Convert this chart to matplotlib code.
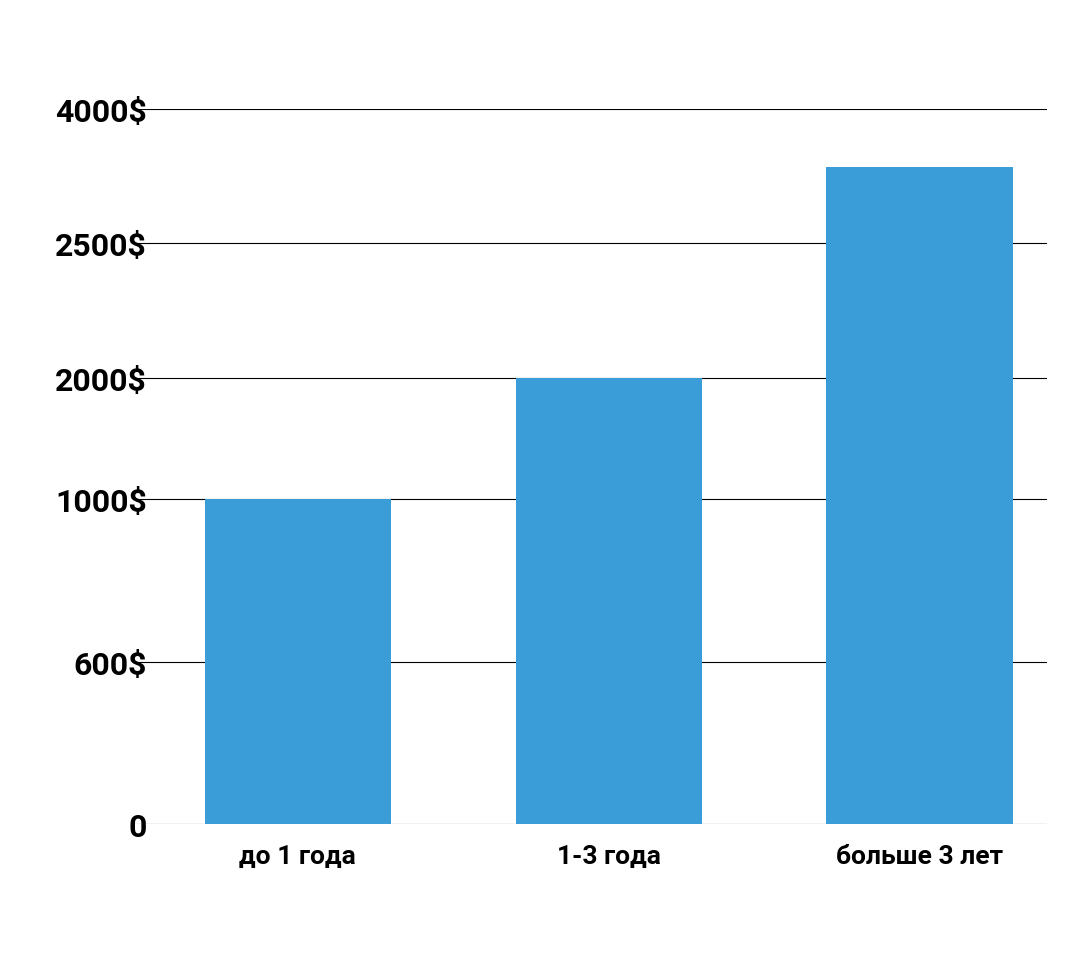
import matplotlib.pyplot as plt
import numpy as np

categories = ['до 1 года', '1-3 года', 'больше 3 лет']
values = [1000, 2000, 3350]
tick_values = [0, 600, 1000, 2000, 2500, 4000]
tick_labels = ['0', '600$', '1000$', '2000$', '2500$', '4000$']
# the source axis is not linear: where each tick sits, in pixels above the baseline
tick_heights = [0, 162, 325, 446, 581, 715]


def fwd(v):
    return np.interp(v, tick_values, tick_heights)


def inv(h):
    return np.interp(h, tick_heights, tick_values)


plt.rcParams['font.family'] = ['Roboto', 'DejaVu Sans']
fig = plt.figure(figsize=(10.73, 9.54), dpi=100)
ax = fig.add_axes([0.124, 0.135, 0.852, 0.75])
ax.set_yscale('function', functions=(fwd, inv))
ax.bar(range(3), values, width=0.6, color='#3a9dd8', zorder=2)
ax.set_ylim(0, 4000)
ax.set_xlim(-0.53, 2.41)
ax.set_yticks(tick_values, tick_labels, fontsize=23, fontweight='bold')
ax.set_xticks(range(3), categories, fontsize=19, fontweight='bold')
ax.yaxis.set_minor_locator(plt.NullLocator())
ax.grid(axis='y', color='black', linewidth=0.8, zorder=0)
ax.tick_params(axis='y', length=0, pad=-10)
ax.tick_params(axis='x', length=0, pad=14)
for s in ax.spines.values():
    s.set_visible(False)
fig.savefig('out.png', dpi=100)
